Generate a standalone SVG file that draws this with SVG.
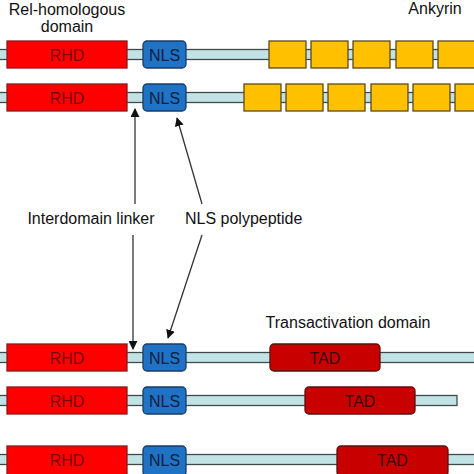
<svg xmlns="http://www.w3.org/2000/svg" width="474" height="474" viewBox="0 0 474 474">
<style>
.bar{fill:#c2e3e6;stroke:#3e4a4c;stroke-width:1.3}
.rhd{fill:#ff0000;stroke:#8a1a1a;stroke-width:1.3}
.nls{fill:#1f72c4;stroke:#1b3c66;stroke-width:1.3}
.ank{fill:#ffc000;stroke:#5c4a1c;stroke-width:1.3}
.tad{fill:#c80000;stroke:#5a1010;stroke-width:1.3}
text{font-family:"Liberation Sans",Arial,sans-serif}
.lbl{font-size:16px;fill:#111}
.rt{font-size:16px;fill:#7a0000;text-anchor:middle}
.nt{font-size:16px;fill:#0b1f40;text-anchor:middle}
.tt{font-size:16px;fill:#3a0000;text-anchor:middle}
.ln{stroke:#333;stroke-width:1.3;fill:none}
</style>
<defs>
<marker id="ah" viewBox="0 0 10 10" refX="9" refY="5" markerWidth="9" markerHeight="9" markerUnits="userSpaceOnUse" orient="auto">
<path d="M0,0 L10,5 L0,10 z" fill="#111"/>
</marker>
</defs>
<rect width="474" height="474" fill="#fff"/>
<text class="lbl" x="67" y="15" text-anchor="middle">Rel-homologous</text>
<text class="lbl" x="67" y="32" text-anchor="middle">domain</text>
<text class="lbl" x="435" y="14" text-anchor="middle">Ankyrin</text>
<text class="lbl" x="348" y="328" text-anchor="middle">Transactivation domain</text>
<text class="lbl" x="91" y="224" text-anchor="middle">Interdomain linker</text>
<text class="lbl" x="185" y="224">NLS polypeptide</text>

<g id="row1">
<rect class="bar" x="-2" y="49.5" width="480" height="10"/>
<rect class="rhd" x="7" y="41" width="120" height="27"/>
<text class="rt" x="67" y="61">RHD</text>
<rect class="nls" x="143" y="41" width="43" height="27" rx="4"/>
<text class="nt" x="164.5" y="61">NLS</text>
<rect class="ank" x="269" y="41" width="37" height="27"/>
<rect class="ank" x="311" y="41" width="37" height="27"/>
<rect class="ank" x="353" y="41" width="37" height="27"/>
<rect class="ank" x="396" y="41" width="37" height="27"/>
<rect class="ank" x="438" y="41" width="37" height="27"/>
</g>
<g id="row2">
<rect class="bar" x="-2" y="92.5" width="480" height="10"/>
<rect class="rhd" x="7" y="84" width="120" height="27"/>
<text class="rt" x="67" y="104">RHD</text>
<rect class="nls" x="143" y="84" width="43" height="27" rx="4"/>
<text class="nt" x="164.5" y="104">NLS</text>
<rect class="ank" x="244" y="84" width="37" height="27"/>
<rect class="ank" x="286" y="84" width="37" height="27"/>
<rect class="ank" x="328" y="84" width="37" height="27"/>
<rect class="ank" x="371" y="84" width="37" height="27"/>
<rect class="ank" x="413" y="84" width="37" height="27"/>
<rect class="ank" x="455" y="84" width="37" height="27"/>
</g>
<g id="row3">
<rect class="bar" x="-2" y="352.5" width="480" height="10"/>
<rect class="rhd" x="7" y="344" width="120" height="27"/>
<text class="rt" x="67" y="364">RHD</text>
<rect class="nls" x="143" y="344" width="43" height="27" rx="4"/>
<text class="nt" x="164.5" y="364">NLS</text>
<rect class="tad" x="270" y="344" width="110" height="27" rx="4"/>
<text class="tt" x="325" y="364">TAD</text>
</g>
<g id="row4">
<rect class="bar" x="-2" y="395.5" width="459" height="10"/>
<rect class="rhd" x="7" y="387" width="120" height="27"/>
<text class="rt" x="67" y="407">RHD</text>
<rect class="nls" x="143" y="387" width="43" height="27" rx="4"/>
<text class="nt" x="164.5" y="407">NLS</text>
<rect class="tad" x="305" y="387" width="110" height="27" rx="4"/>
<text class="tt" x="360" y="407">TAD</text>
</g>
<g id="row5">
<rect class="bar" x="-2" y="454.5" width="480" height="10"/>
<rect class="rhd" x="7" y="446" width="120" height="30"/>
<text class="rt" x="67" y="466">RHD</text>
<rect class="nls" x="143" y="446" width="43" height="30" rx="4"/>
<text class="nt" x="164.5" y="466">NLS</text>
<rect class="tad" x="337" y="446" width="111" height="30" rx="4"/>
<text class="tt" x="392.5" y="466">TAD</text>
</g>
<g id="connectors">
<line class="ln" x1="135" y1="204" x2="135" y2="109" marker-end="url(#ah)"/>
<line class="ln" x1="202" y1="204" x2="177" y2="118" marker-end="url(#ah)"/>
<line class="ln" x1="133" y1="235" x2="133" y2="349" marker-end="url(#ah)"/>
<line class="ln" x1="202" y1="235" x2="168" y2="338" marker-end="url(#ah)"/>
</g>
</svg>
